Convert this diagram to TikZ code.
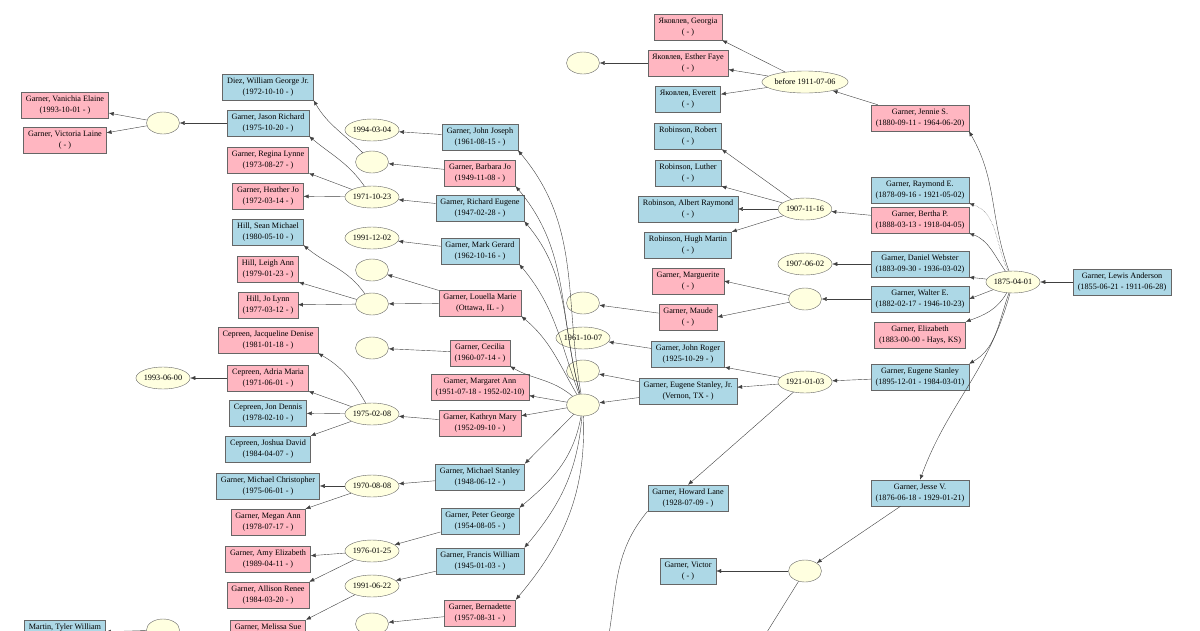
\documentclass[tikz,border=0pt]{standalone}
\usepackage{fontspec}
\setmainfont{Liberation Serif}
\usetikzlibrary{shapes.geometric,arrows.meta}
\definecolor{pinkf}{HTML}{FFB6C1}
\definecolor{bluef}{HTML}{ADD8E6}
\definecolor{ellf}{HTML}{FFFFE0}
\tikzset{
 person/.style={draw=black!60,rectangle,align=center,font=\fontsize{8.2}{11.5}\selectfont,inner xsep=4.5pt,inner ysep=2pt,minimum height=26pt},
 fem/.style={person,fill=pinkf},
 mal/.style={person,fill=bluef},
 fam/.style={draw=black!60,ellipse,fill=ellf,minimum width=33pt,minimum height=22pt,inner xsep=0pt,inner ysep=1pt,font=\fontsize{8.2}{10}\selectfont},
 edge/.style={draw=black!75,line width=0.4pt,-{Latex[length=5pt,width=4pt]}},
 plain/.style={draw=black!75,line width=0.4pt}
}
\begin{document}
\begin{tikzpicture}[x=1pt,y=-1pt]
\useasboundingbox (0,0) rectangle (1200,630);
\begin{scope}
\clip (0,0) rectangle (1200,630);
% left column
\node[fem] (vanichia) at (65,105) {Garner, Vanichia Elaine\\(1993-10-01 - )};
\node[fem] (victoria) at (65,140) {Garner, Victoria Laine\\( - )};
\node[fam] (e1) at (163,123) {};
\node[mal] (tyler) at (65,633) {Martin, Tyler William\\( - )};
\node[fam] (eb) at (163,630) {};
\node[fam] (d1993) at (163,378) {1993-06-00};
% second column
\node[mal] (diez) at (268,87) {Diez, William George Jr.\\(1972-10-10 - )};
\node[mal] (jason) at (268,123) {Garner, Jason Richard\\(1975-10-20 - )};
\node[fem] (regina) at (268,160) {Garner, Regina Lynne\\(1973-08-27 - )};
\node[fem] (heather) at (268,196) {Garner, Heather Jo\\(1972-03-14 - )};
\node[mal] (sean) at (268,232) {Hill, Sean Michael\\(1980-05-10 - )};
\node[fem] (leigh) at (268,269) {Hill, Leigh Ann\\(1979-01-23 - )};
\node[fem] (jolynn) at (268,305) {Hill, Jo Lynn\\(1977-03-12 - )};
\node[fem] (jacq) at (268,340) {Cepreen, Jacqueline Denise\\(1981-01-18 - )};
\node[fem] (adria) at (268,378) {Cepreen, Adria Maria\\(1971-06-01 - )};
\node[mal] (jon) at (268,413) {Cepreen, Jon Dennis\\(1978-02-10 - )};
\node[mal] (joshua) at (268,449) {Cepreen, Joshua David\\(1984-04-07 - )};
\node[mal] (michaelc) at (268,486) {Garner, Michael Christopher\\(1975-06-01 - )};
\node[fem] (megan) at (268,522) {Garner, Megan Ann\\(1978-07-17 - )};
\node[fem] (amy) at (268,559) {Garner, Amy Elizabeth\\(1989-04-11 - )};
\node[fem] (allison) at (268,595) {Garner, Allison Renee\\(1984-03-20 - )};
\node[fem] (melissa) at (268,633) {Garner, Melissa Sue\\( - )};
% family ellipses col
\node[fam] (d1994) at (372,130) {1994-03-04};
\node[fam] (e2) at (372,162) {};
\node[fam] (d1971) at (372,197) {1971-10-23};
\node[fam] (d1991a) at (372,238) {1991-12-02};
\node[fam] (e3) at (372,270) {};
\node[fam] (e4) at (372,304) {};
\node[fam] (e5) at (372,348) {};
\node[fam] (d1975) at (372,414) {1975-02-08};
\node[fam] (d1970) at (372,486) {1970-08-08};
\node[fam] (d1976) at (372,551) {1976-01-25};
\node[fam] (d1991b) at (372,586) {1991-06-22};
\node[fam] (e6) at (372,624) {};
% middle boxes
\node[mal] (johnj) at (480,137) {Garner, John Joseph\\(1961-08-15 - )};
\node[fem] (barbara) at (480,173) {Garner, Barbara Jo\\(1949-11-08 - )};
\node[mal] (richard) at (480,208) {Garner, Richard Eugene\\(1947-02-28 - )};
\node[mal] (mark) at (480,251) {Garner, Mark Gerard\\(1962-10-16 - )};
\node[fem] (louella) at (480,303) {Garner, Louella Marie\\(Ottawa, IL - )};
\node[fem] (cecilia) at (480,353) {Garner, Cecilia\\(1960-07-14 - )};
\node[fem] (margaret) at (480,387) {Garner, Margaret Ann\\(1951-07-18 - 1952-02-10)};
\node[fem] (kathryn) at (480,423) {Garner, Kathryn Mary\\(1952-09-10 - )};
\node[mal] (michaels) at (480,477) {Garner, Michael Stanley\\(1948-06-12 - )};
\node[mal] (peter) at (480,521) {Garner, Peter George\\(1954-08-05 - )};
\node[mal] (francis) at (480,561) {Garner, Francis William\\(1945-01-03 - )};
\node[fem] (bernadette) at (480,613) {Garner, Bernadette\\(1957-08-31 - )};
% hub and col 585
\node[fam] (e7) at (583,405) {};
\node[fam] (e8) at (583,63) {};
\node[fam] (e9) at (583,303) {};
\node[fam] (d1961) at (583,338) {1961-10-07};
\node[fam] (e10) at (583,371) {};
% col 688
\node[fem] (georgia) at (688,27) {Яковлев, Georgia\\( - )};
\node[fem] (esther) at (688,63) {Яковлев, Esther Faye\\( - )};
\node[mal] (everett) at (688,99) {Яковлев, Everett\\( - )};
\node[mal] (robert) at (688,136) {Robinson, Robert\\( - )};
\node[mal] (luther) at (688,173) {Robinson, Luther\\( - )};
\node[mal] (albert) at (688,209) {Robinson, Albert Raymond\\( - )};
\node[mal] (hugh) at (688,245) {Robinson, Hugh Martin\\( - )};
\node[fem] (marguerite) at (688,281) {Garner, Marguerite\\( - )};
\node[fem] (maude) at (688,317) {Garner, Maude\\( - )};
\node[mal] (johnr) at (688,354) {Garner, John Roger\\(1925-10-29 - )};
\node[mal] (eugenejr) at (688,391) {Garner, Eugene Stanley, Jr.\\(Vernon, TX - )};
\node[mal] (howard) at (688,498) {Garner, Howard Lane\\(1928-07-09 - )};
\node[mal] (victor) at (688,571) {Garner, Victor\\( - )};
% col 805
\node[fam] (d1911) at (805,82) {before 1911-07-06};
\node[fam] (d1907b) at (805,209) {1907-11-16};
\node[fam] (d1907a) at (805,264) {1907-06-02};
\node[fam] (e11) at (805,299) {};
\node[fam] (d1921) at (805,382) {1921-01-03};
\node[fam] (e12) at (805,571) {};
% col 920
\node[fem] (jennie) at (920,118) {Garner, Jennie S.\\(1880-09-11 - 1964-06-20)};
\node[mal] (raymond) at (920,190) {Garner, Raymond E.\\(1878-09-16 - 1921-05-02)};
\node[fem] (bertha) at (920,220) {Garner, Bertha P.\\(1888-03-13 - 1918-04-05)};
\node[mal] (daniel) at (920,264) {Garner, Daniel Webster\\(1883-09-30 - 1936-03-02)};
\node[mal] (walter) at (920,299) {Garner, Walter E.\\(1882-02-17 - 1946-10-23)};
\node[fem] (elizabeth) at (920,335) {Garner, Elizabeth\\(1883-00-00 - Hays, KS)};
\node[mal] (eugene) at (920,377) {Garner, Eugene Stanley\\(1895-12-01 - 1984-03-01)};
\node[mal] (jesse) at (920,493) {Garner, Jesse V.\\(1876-06-18 - 1929-01-21)};
\node[fam] (d1875) at (1013,282) {1875-04-01};
\node[mal] (lewis) at (1122,282) {Garner, Lewis Anderson\\(1855-06-21 - 1911-06-28)};
\coordinate (offA) at (608,640);
\coordinate (offB) at (762,640);
% edges
\draw[edge] (lewis) -- (d1875);
\draw[edge] (d1875) to[out=110,in=-60] (jennie.south east);
\draw[edge,densely dotted] (d1875) to[out=115,in=-20] (raymond.south east);
\draw[edge] (d1875) to[out=125,in=-20] (bertha.south east);
\draw[edge] (d1875) -- (daniel.south east);
\draw[edge] (d1875) -- (walter.east);
\draw[edge] (d1875) to[out=-120,in=20] (elizabeth.north east);
\draw[edge] (d1875) to[out=-110,in=30] (eugene.north east);
\draw[edge] (d1875) to[out=-105,in=70] (jesse.north);
\draw[edge] (jennie) -- (d1911);
\draw[edge] (d1911) -- (georgia.south east);
\draw[edge] (d1911) -- (esther);
\draw[edge] (d1911) -- (everett);
\draw[edge] (esther) -- (e8);
\draw[edge] (bertha) -- (d1907b);
\draw[edge] (d1907b) -- (robert.south east);
\draw[edge] (d1907b) -- (luther.south east);
\draw[edge] (d1907b) -- (albert);
\draw[edge] (d1907b) -- (hugh.north east);
\draw[edge] (daniel) -- (d1907a);
\draw[edge] (walter) -- (e11);
\draw[edge] (e11) -- (marguerite.east);
\draw[edge] (e11) -- (maude.east);
\draw[edge] (maude) -- (e9);
\draw[edge] (eugene) -- (d1921);
\draw[edge] (d1921) -- (johnr.south east);
\draw[edge] (d1921) -- (eugenejr);
\draw[edge] (d1921) -- (howard.north);
\draw[edge] (johnr) -- (d1961);
\draw[edge] (eugenejr) -- (e10);
\draw[edge] (eugenejr) -- (e7);
\draw[edge] (jesse) -- (e12);
\draw[edge] (e12) -- (victor);
\draw[plain] (e12) -- (offB);
\draw[plain] (howard.south west) to[out=-130,in=80] (offA);
% hub edges
\draw[edge] (e7) to[out=100,in=-50] (johnj.south east);
\draw[edge] (e7) to[out=105,in=-50] (barbara.south east);
\draw[edge] (e7) to[out=105,in=-50] (richard.south east);
\draw[edge] (e7) to[out=110,in=-50] (mark.south east);
\draw[edge] (e7) to[out=120,in=-40] (louella.south east);
\draw[edge] (e7) to[out=140,in=-30] (cecilia.south east);
\draw[edge] (e7) -- (margaret);
\draw[edge] (e7) -- (kathryn);
\draw[edge] (e7) -- (michaels.north east);
\draw[edge] (e7) to[out=-100,in=40] (peter.north east);
\draw[edge] (e7) to[out=-95,in=50] (francis.north east);
\draw[edge] (e7) to[out=-88,in=50] (bernadette.north east);
\draw[edge] (johnj) -- (d1994);
\draw[edge] (barbara) -- (e2);
\draw[edge] (richard) -- (d1971);
\draw[edge] (mark) -- (d1991a);
\draw[edge] (louella) -- (e3);
\draw[edge] (louella) -- (e4);
\draw[edge] (cecilia) -- (e5);
\draw[edge] (kathryn) -- (d1975);
\draw[edge] (michaels) -- (d1970);
\draw[edge] (peter) -- (d1976);
\draw[edge] (francis) -- (d1991b);
\draw[edge] (bernadette) -- (e6);
\draw[edge] (e2) to[out=135,in=-60] (diez.south east);
\draw[edge] (d1971) to[out=125,in=-40] (jason.south east);
\draw[edge] (d1971) -- (regina.south east);
\draw[edge] (d1971) -- (heather);
\draw[edge] (e4) to[out=125,in=-40] (sean.south east);
\draw[edge] (e4) -- (leigh.south east);
\draw[edge] (e4) -- (jolynn);
\draw[edge] (d1975) to[out=120,in=-30] (jacq.south east);
\draw[edge] (d1975) -- (adria.south east);
\draw[edge] (d1975) -- (jon);
\draw[edge] (d1975) -- (joshua.north east);
\draw[edge] (adria) -- (d1993);
\draw[edge] (d1970) -- (michaelc);
\draw[edge] (d1970) -- (megan.north east);
\draw[edge] (d1976) -- (amy);
\draw[edge] (d1976) -- (allison.north east);
\draw[edge] (d1991b) -- (melissa.north east);
\draw[edge] (jason) -- (e1);
\draw[edge] (e1) -- (vanichia);
\draw[edge] (e1) -- (victoria);
\draw[edge] (eb) -- (tyler);
\end{scope}
\end{tikzpicture}
\end{document}
